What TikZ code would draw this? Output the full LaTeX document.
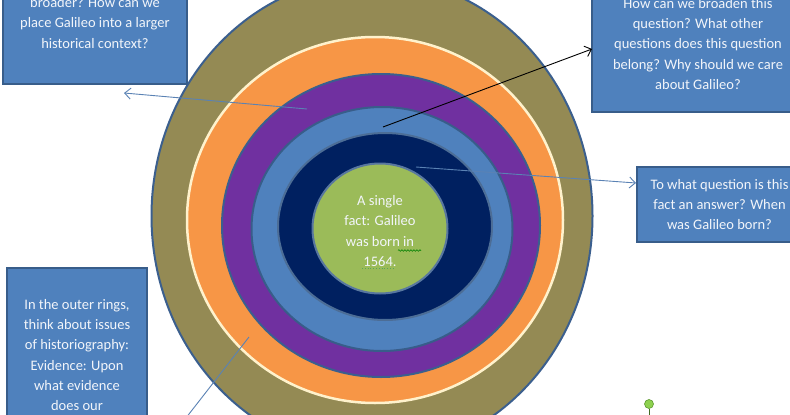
\documentclass[tikz,border=0pt]{standalone}
\usepackage{fontspec}
\setmainfont{Carlito}
\usetikzlibrary{arrows.meta,decorations.pathmorphing}
\definecolor{olivering}{HTML}{948A54}
\definecolor{orangering}{HTML}{F79646}
\definecolor{purplering}{HTML}{7030A0}
\definecolor{bluering}{HTML}{4F81BD}
\definecolor{navyring}{HTML}{002060}
\definecolor{greenring}{HTML}{9BBB59}
\definecolor{edgeblue}{HTML}{3B5F8E}
\definecolor{cream}{HTML}{FFF2CC}
\definecolor{boxfill}{HTML}{4F81BD}
\definecolor{boxedge}{HTML}{385D8A}
\definecolor{textwhite}{HTML}{F2F5FA}
\definecolor{linkblue}{HTML}{5A82B4}
\definecolor{dotgreen}{HTML}{8ED14F}
\definecolor{dotedge}{HTML}{5E9A32}
\begin{document}
\begin{tikzpicture}[x=1pt,y=-1pt,
  ring/.style={draw=edgeblue, line width=2pt},
  infobox/.style={fill=boxfill, draw=boxedge, line width=2.5pt, text=textwhite,
    align=center, font=\fontsize{14.5}{20.3}\selectfont, inner sep=0pt},
  facttext/.style={text=textwhite, align=center, font=\fontsize{14.5}{20.3}\selectfont, inner sep=0pt},
  link/.style={draw=linkblue, line width=0.9pt, -{Straight Barb[length=6pt,width=11pt]}},
  blacklink/.style={draw=black, line width=0.9pt, -{Straight Barb[length=6pt,width=11pt]}},
]
\useasboundingbox (0,0) rectangle (790,415);
\clip (0,0) rectangle (790,415);
\fill[white] (0,0) rectangle (790,415);

% rings
\coordinate (c1) at (372,216);
\coordinate (c2) at (375,220);
\coordinate (c3) at (381,225.5);
\coordinate (c4) at (382,229);
\coordinate (c5) at (385,226.5);
\coordinate (c6) at (380,228.5);
\filldraw[ring, fill=olivering] (c1) ellipse [x radius=220.5, y radius=239];
\filldraw[fill=orangering, draw=cream, line width=2.5pt] (c2) ellipse [x radius=188, y radius=183];
\filldraw[ring, fill=purplering] (c3) ellipse [x radius=159, y radius=151.5];
\filldraw[ring, fill=bluering, draw=boxedge] (c4) ellipse [x radius=130.5, y radius=122];
\filldraw[ring, fill=navyring, draw=boxedge!90!white] (c5) ellipse [x radius=107, y radius=93.5];
\filldraw[ring, fill=greenring, draw=edgeblue!85!white] (c6) ellipse [x radius=67.5, y radius=65];

\node[facttext] (fact) at (380,231) {A single\\fact: Galileo\\was born in\\1564.};
\draw[green!50!black, line width=0.6pt, decorate, decoration={snake, amplitude=0.8pt, segment length=3pt}] (398,250.5) -- (421,250.5);
\draw[gray!70!green, line width=0.8pt, dotted] (362,268.5) -- (393,268.5);

% boxes
\node[infobox, minimum width=184, minimum height=122] (b1) at (95,23)
  {broader? How can we\\place Galileo into a larger\\historical context?};
\node[infobox, minimum width=212, minimum height=136] (b2) at (698,44)
  {How can we broaden this\\question? What other\\questions does this question\\belong? Why should we care\\about Galileo?};
\node[infobox, minimum width=165, minimum height=75] (b3) at (719.5,204.5)
  {To what question is this\\fact an answer? When\\was Galileo born?};
\node[infobox, minimum width=140, minimum height=174] (b4) at (77,355)
  {In the outer rings,\\think about issues\\of historiography:\\Evidence: Upon\\what evidence\\does our};

% connectors
\coordinate (s1) at (307,109);
\coordinate (t1) at (124,93);
\coordinate (s2) at (383,127);
\coordinate (t2) at (592,49);
\coordinate (s3) at (416,167);
\coordinate (t3) at (636,183);
\coordinate (s4) at (249,337);
\coordinate (t4) at (168,441);
\draw[link] (s1) -- (t1);
\draw[blacklink] (s2) -- (t2);
\draw[link] (s3) -- (t3);
\draw[draw=linkblue, line width=0.9pt] (s4) -- (t4);

% small handle
\node[circle, fill=dotgreen, draw=dotedge, line width=0.6pt, minimum size=9pt, inner sep=0pt] (handle) at (649,404) {};
\coordinate (hb) at (649,416);
\draw[dotedge!70!black, line width=0.7pt] (handle.south) -- (hb);
\end{tikzpicture}
\end{document}
